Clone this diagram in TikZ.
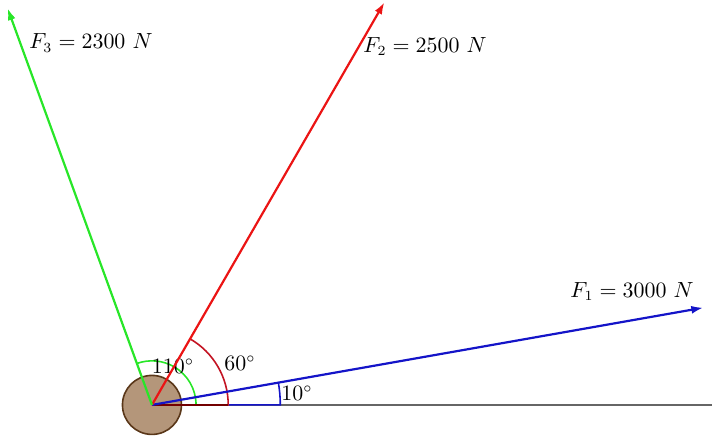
\documentclass[tikz,border=0pt]{standalone}
\usetikzlibrary{arrows.meta}
\definecolor{bodybrown}{RGB}{180,150,122}
\definecolor{bodyedge}{RGB}{90,55,25}
\definecolor{fblue}{RGB}{20,20,200}
\definecolor{fgreen}{RGB}{40,230,40}
\definecolor{fred}{RGB}{235,20,20}
\definecolor{ared}{RGB}{195,20,35}
\tikzset{
  force/.style={line width=1.1pt,-{Latex[length=6pt,width=4pt]}},
  anglemark/.style={line width=0.8pt},
}
\begin{document}
\begin{tikzpicture}[x=93pt,y=93pt,every node/.style={font=\fontsize{10.6}{13}\selectfont}]
            \useasboundingbox (-0.817,-0.183) rectangle (3.054,2.177);
            \coordinate (O) at (0,0);
            \coordinate (X) at (3.01,0);
            \node at (O)[circle,fill=bodybrown,draw=bodyedge,line width=0.8pt,minimum size=29.5pt,inner sep=0pt] (body){};
            \draw[black!60,line width=1pt] (O) -- (X);
            % angle marks
            \draw[anglemark,fgreen] (0.237,0) arc[start angle=0,end angle=110,radius=0.237];
            \draw[anglemark,fblue] (O) -- (0.69,0) arc[start angle=0,end angle=10,radius=0.69];
            \draw[anglemark,ared] (O) -- (0.41,0) arc[start angle=0,end angle=60,radius=0.41];
            \draw[anglemark,red!45!black] (O) -- (0.41,0);
            \node at (0.113,0.210) (a3){$110^\circ$};
            \node at (0.473,0.226) (a2){$60^\circ$};
            \node at (0.780,0.065) (a1){$10^\circ$};
            % forces
            \foreach \i/\ang/\len/\col in {1/10/3.01/fblue,2/60/2.5/fred,3/110/2.27/fgreen}
            {
            \coordinate (F\i) at (\ang:\len);
            \draw[force,\col] (O) -- (F\i);
            }
            \node at (2.581,0.608) (l1){$F_1 = 3000\ N$};
            \node at (1.468,1.925) (l2){$F_2 = 2500\ N$};
            \node at (-0.328,1.946) (l3){$F_3 = 2300\ N$};
        \end{tikzpicture}
\end{document}
